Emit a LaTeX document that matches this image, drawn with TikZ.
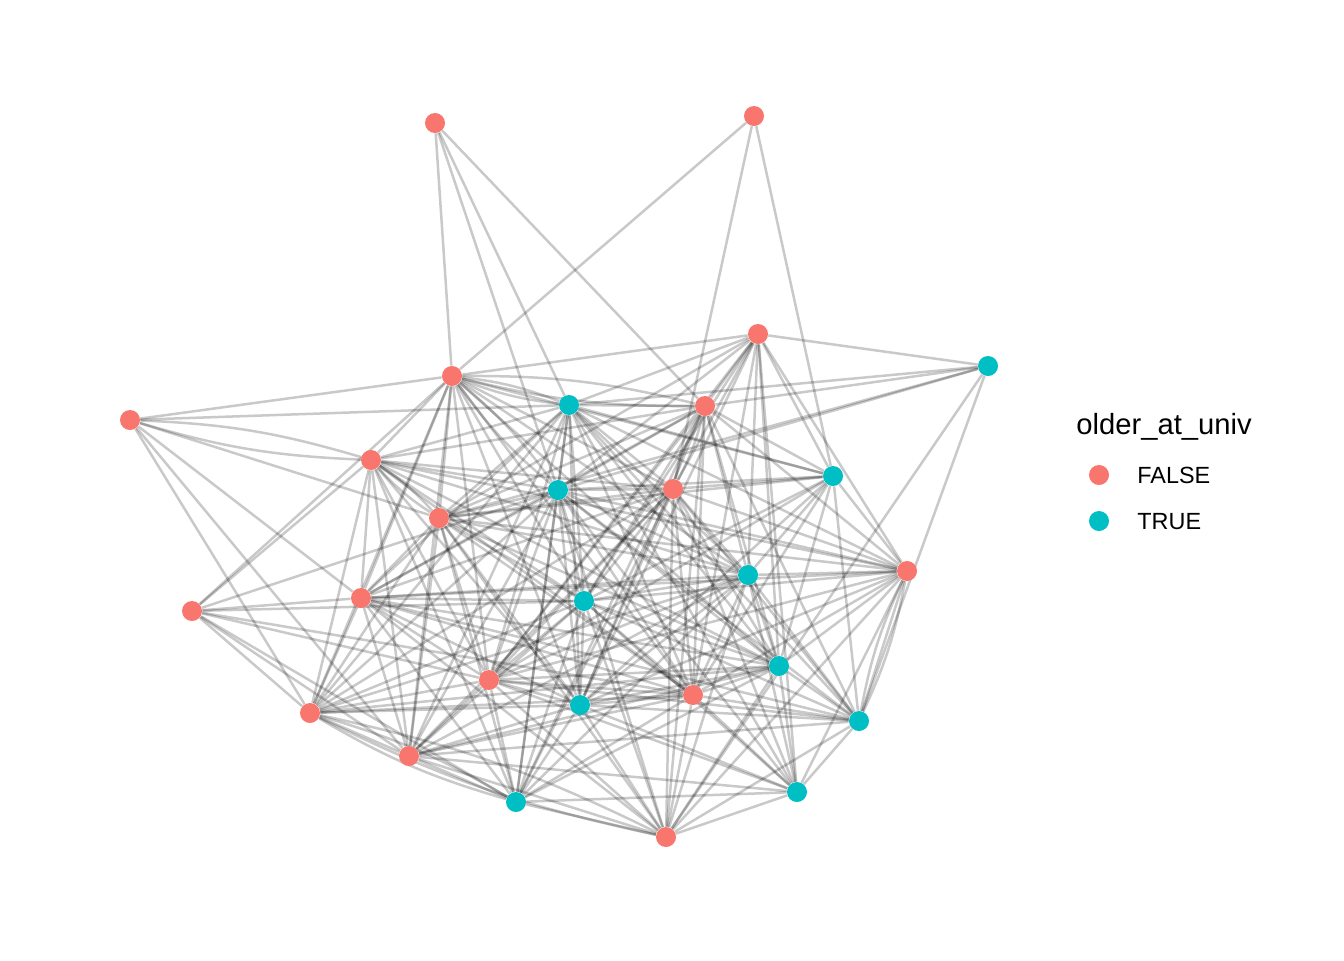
\documentclass[tikz,border=0pt]{standalone}
\usepackage{fontspec}
\setmainfont{Liberation Sans}
\definecolor{fcol}{HTML}{F8766D}
\definecolor{tcol}{HTML}{00BFC4}
\pgfdeclarelayer{bg}
\pgfsetlayers{bg,main}
\tikzset{
  vf/.style={circle,fill=fcol,draw=none,minimum size=10pt,inner sep=0pt},
  vt/.style={circle,fill=tcol,draw=none,minimum size=10pt,inner sep=0pt},
  ed/.style={draw=black,draw opacity=0.21,line width=1.25pt},
  legtitle/.style={anchor=base west,inner sep=0pt,font=\fontsize{14.6pt}{16pt}\selectfont},
  leglab/.style={anchor=base west,inner sep=0pt,font=\fontsize{11.7pt}{13pt}\selectfont},
}
\begin{document}
\begin{tikzpicture}[x=0.5pt,y=-0.5pt]
\useasboundingbox (0,0) rectangle (1344,960);
% vertices
\node[vf] (A) at (435,123) {};
\node[vf] (B) at (754,116) {};
\node[vf] (C) at (758,334) {};
\node[vt] (D) at (988,366) {};
\node[vf] (E) at (452,376) {};
\node[vf] (F) at (130,420) {};
\node[vt] (G) at (569,405) {};
\node[vf] (H) at (705,406) {};
\node[vf] (I) at (371,460) {};
\node[vt] (J) at (833,476) {};
\node[vt] (K) at (558,490) {};
\node[vf] (L) at (673,489) {};
\node[vf] (M) at (439,518) {};
\node[vf] (N) at (907,571) {};
\node[vt] (O) at (748,575) {};
\node[vf] (P) at (192,611) {};
\node[vf] (Q) at (361,598) {};
\node[vt] (R) at (584,601) {};
\node[vt] (S) at (779,666) {};
\node[vf] (T) at (489,680) {};
\node[vf] (U) at (693,695) {};
\node[vt] (V) at (580,705) {};
\node[vf] (W) at (310,713) {};
\node[vt] (X) at (859,721) {};
\node[vf] (Y) at (409,756) {};
\node[vt] (Z) at (516,802) {};
\node[vt] (AA) at (797,792) {};
\node[vf] (AB) at (666,837) {};
% edges
\begin{pgfonlayer}{bg}
\foreach \a/\b in {
 A/E,A/G,A/K,A/H,
 B/E,B/L,B/J,
 D/C,D/G,D/H,D/K,D/M,D/X,D/AB,
 F/E,F/G,F/M,F/Q,F/W,F/Y,
 P/I,P/E,P/K,P/Q,P/R,P/T,P/U,P/W,P/Y,P/Z,
 C/E,C/G,C/H,C/K,C/L,C/O,C/R,C/U,C/J,C/N,C/S,C/V,C/T,C/M,C/AA,
 E/I,E/L,E/M,E/Q,E/R,E/T,E/V,E/U,E/O,E/S,E/J,E/W,E/Y,
 G/H,G/I,G/K,G/L,G/M,G/O,G/Q,G/R,G/S,G/T,G/U,G/V,G/J,G/N,G/W,G/Y,G/Z,G/AA,G/X,
 H/I,H/K,H/M,H/O,H/R,H/S,H/U,H/J,H/N,H/Q,H/T,H/V,H/X,H/Z,H/AB,
 I/K,I/L,I/Q,I/R,I/T,I/U,I/V,I/O,I/W,I/Y,I/Z,I/S,I/N,
 J/K,J/L,J/O,J/R,J/S,J/U,J/N,J/V,J/X,J/T,J/M,
 K/L,K/M,K/O,K/Q,K/R,K/S,K/T,K/U,K/V,K/W,K/Y,K/Z,K/N,K/X,K/AB,K/AA,
 L/M,L/O,L/Q,L/R,L/S,L/T,L/U,L/V,L/W,L/N,L/X,L/Y,L/Z,L/AA,L/AB,
 M/O,M/Q,M/R,M/T,M/U,M/V,M/W,M/Y,M/Z,M/S,M/N,M/AB,
 N/O,N/S,N/U,N/X,N/V,N/T,N/R,N/AA,N/Q,N/AB,
 O/Q,O/R,O/S,O/T,O/U,O/V,O/X,O/Y,O/Z,O/AA,O/AB,O/W,
 Q/R,Q/T,Q/U,Q/V,Q/W,Q/Y,Q/Z,Q/S,Q/AB,Q/X,
 R/S,R/T,R/U,R/V,R/W,R/X,R/Y,R/Z,R/AA,R/AB,
 S/T,S/U,S/V,S/W,S/X,S/Y,S/Z,S/AA,S/AB,
 T/U,T/V,T/W,T/Y,T/Z,T/X,T/AA,T/AB,
 U/V,U/W,U/X,U/Y,U/Z,U/AA,U/AB,
 V/W,V/X,V/Y,V/Z,V/AA,V/AB,
 W/Y,X/AA,X/AB,X/Y,Y/Z,Y/AB,Y/AA,Z/AA,Z/AB,AA/AB}
 {\draw[ed] (\a) -- (\b);}
% multiple edges drawn as fans
\foreach \a/\b in {F/I,E/G,E/H,E/K,H/L,I/M,W/Z,W/AB,N/X}
 {\draw[ed] (\a) to[bend left=7] (\b);
  \draw[ed] (\a) to[bend right=7] (\b);}
\end{pgfonlayer}
% legend
\node[legtitle] (lgt) at (1076,434) {older\_at\_univ};
\node[vf] (lf) at (1099,475) {};
\node[vt] (lt) at (1099,521) {};
\node[leglab] (lft) at (1137,483.5) {FALSE};
\node[leglab] (ltt) at (1137,529.5) {TRUE};
\end{tikzpicture}
\end{document}
